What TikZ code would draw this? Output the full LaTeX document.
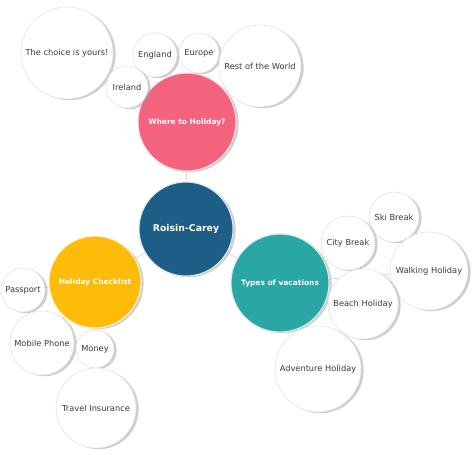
\documentclass[tikz,border=0pt]{standalone}
\usepackage{fontspec}
\setmainfont{DejaVu Sans}
\usepackage{xcolor}
\usepackage{tikz}
\usetikzlibrary{shadows, backgrounds}

\definecolor{rosepink}{HTML}{F4627E}
\definecolor{deepblue}{HTML}{1D5E87}
\definecolor{tealgreen}{HTML}{2AA6A4}
\definecolor{sunyellow}{HTML}{FDBC0A}
\definecolor{leaftext}{HTML}{3A3A3A}

\begin{document}
\begin{tikzpicture}[
        x=0.75pt, y=-0.75pt,
        bubble/.style={circle, inner sep=0pt, align=center,
            drop shadow={shadow xshift=2pt, shadow yshift=-0.9pt, fill=black!38}},
        rootbubble/.style={bubble, fill=deepblue, draw=white!85!deepblue, line width=0.8pt, text=white, font=\bfseries\fontsize{7}{8}\selectfont},
        mainbubble/.style={bubble, draw=white!80!#1, line width=0.8pt, fill=#1, text=white, font=\bfseries\fontsize{5.6}{7}\selectfont},
        leafbubble/.style={bubble, fill=white, draw=black!12, line width=0.4pt, text=leaftext, font=\fontsize{6.2}{7.5}\selectfont},
        link/.style={draw=black!15, line width=0.6pt}
    ]

    \useasboundingbox (0,0) rectangle (474,454);

    % ============ CENTRE ============
    \node[rootbubble, minimum size=70.5pt] (root) at (186,229) {Roisin-Carey};

    % ============ MAIN TOPICS ============
    \node[mainbubble=rosepink, minimum size=73.5pt] (where) at (187,122) {Where to Holiday?};
    \node[mainbubble=sunyellow, minimum size=69pt] (checklist) at (95,282) {Holiday Checklist};
    \node[mainbubble=tealgreen, minimum size=73.5pt] (types) at (280,283) {Types of vacations};

    % ============ WHERE TO HOLIDAY ============
    \node[leafbubble, minimum size=69pt] (choice) at (67,53) {The choice is yours!};
    \node[leafbubble, minimum size=33pt] (england) at (155,55) {England};
    \node[leafbubble, minimum size=30pt] (europe) at (199,53) {Europe};
    \node[leafbubble, minimum size=61.5pt] (restworld) at (260,66) {Rest of the World};
    \node[leafbubble, minimum size=31.5pt] (ireland) at (127,87) {Ireland};

    % ============ HOLIDAY CHECKLIST ============
    \node[leafbubble, minimum size=33pt] (passport) at (23,290) {Passport};
    \node[leafbubble, minimum size=48pt] (mobile) at (42,343) {Mobile Phone};
    \node[leafbubble, minimum size=28.5pt] (money) at (95,349) {Money};
    \node[leafbubble, minimum size=60pt] (insurance) at (96,408) {Travel Insurance};

    % ============ TYPES OF VACATIONS ============
    \node[leafbubble, minimum size=37.5pt] (ski) at (394,217) {Ski Break};
    \node[leafbubble, minimum size=40.5pt] (city) at (348,243) {City Break};
    \node[leafbubble, minimum size=58.5pt] (walking) at (429,271) {Walking Holiday};
    \node[leafbubble, minimum size=52.5pt] (beach) at (363,304) {Beach Holiday};
    \node[leafbubble, minimum size=64.5pt] (adventure) at (318,369) {Adventure Holiday};

    % ============ LINKS ============
    \begin{scope}[on background layer]
        \draw[link] (root) -- (where);
        \draw[link] (root) -- (checklist);
        \draw[link] (root) -- (types);
        \foreach \leaf in {choice, england, europe, restworld, ireland}
            \draw[link] (where) -- (\leaf);
        \foreach \leaf in {passport, mobile, money, insurance}
            \draw[link] (checklist) -- (\leaf);
        \foreach \leaf in {ski, city, walking, beach, adventure}
            \draw[link] (types) -- (\leaf);
    \end{scope}

\end{tikzpicture}
\end{document}
